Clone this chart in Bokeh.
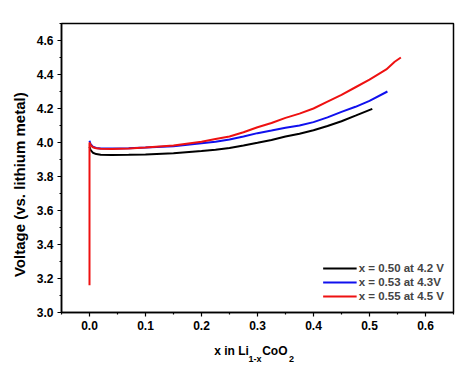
from bokeh.plotting import figure
from bokeh.models import FixedTicker, PrintfTickFormatter, Range1d, Legend, LegendItem, LinearAxis
from bokeh.embed import file_html
from bokeh.resources import INLINE

# Charge curves of Li(1-x)CoO2 cells cut off at three voltages
black_x = [0.0, 0.002, 0.006, 0.012, 0.02, 0.04, 0.07, 0.1, 0.15, 0.2, 0.225, 0.25, 0.275, 0.3,
           0.325, 0.35, 0.375, 0.4, 0.425, 0.45, 0.475, 0.505]
black_v = [3.975, 3.955, 3.94, 3.932, 3.928, 3.927, 3.928, 3.93, 3.937, 3.95, 3.958, 3.968, 3.982, 3.998,
           4.015, 4.035, 4.052, 4.072, 4.097, 4.125, 4.158, 4.198]

blue_x = [0.0, 0.002, 0.006, 0.012, 0.02, 0.04, 0.07, 0.1, 0.15, 0.2, 0.225, 0.25, 0.275, 0.3,
          0.325, 0.35, 0.375, 0.4, 0.425, 0.45, 0.475, 0.5, 0.532]
blue_v = [4.01, 3.99, 3.975, 3.968, 3.965, 3.964, 3.966, 3.97, 3.978, 3.995, 4.005, 4.018, 4.035, 4.055,
          4.07, 4.087, 4.10, 4.12, 4.148, 4.18, 4.21, 4.245, 4.30]

red_x = [0.0, 0.0, 0.002, 0.006, 0.012, 0.02, 0.04, 0.07, 0.1, 0.15, 0.2, 0.225, 0.25, 0.275, 0.3,
         0.325, 0.35, 0.375, 0.4, 0.425, 0.45, 0.475, 0.5, 0.53, 0.545, 0.556]
red_v = [3.16, 4.0, 3.985, 3.972, 3.966, 3.963, 3.962, 3.965, 3.97, 3.982, 4.005, 4.02, 4.035, 4.06, 4.09,
         4.115, 4.145, 4.17, 4.2, 4.24, 4.28, 4.325, 4.37, 4.43, 4.475, 4.5]

series_labels = ["x = 0.50 at 4.2 V", "x = 0.53 at 4.3V", "x = 0.55 at 4.5 V"]

x_ticks = [0.0, 0.1, 0.2, 0.3, 0.4, 0.5, 0.6]
x_minor = [-0.05, 0.05, 0.15, 0.25, 0.35, 0.45, 0.55, 0.65]
y_ticks = [3.0, 3.2, 3.4, 3.6, 3.8, 4.0, 4.2, 4.4, 4.6]
y_minor = [3.1, 3.3, 3.5, 3.7, 3.9, 4.1, 4.3, 4.5, 4.7]

FONT = "Liberation Sans"
NB = "\u00a0"

p = figure(width=474, height=379, output_backend="svg", toolbar_location=None,
           x_range=Range1d(-0.05, 0.65), y_range=Range1d(3.0, 4.7),
           min_border_left=61, min_border_right=21, min_border_top=23, min_border_bottom=67)
p.background_fill_color = "white"
p.border_fill_color = "white"
p.xgrid.visible = False
p.ygrid.visible = False
p.outline_line_color = "black"
p.outline_line_width = 1.5

for ax, ticks, minor in ((p.xaxis[0], x_ticks, x_minor), (p.yaxis[0], y_ticks, y_minor)):
    ax.ticker = FixedTicker(ticks=ticks, minor_ticks=minor)
    ax.formatter = PrintfTickFormatter(format="%.1f")
    ax.axis_line_color = "black"
    ax.axis_line_width = 1.5
    ax.major_tick_line_color = "black"
    ax.minor_tick_line_color = "black"
    ax.major_tick_line_width = 1.2
    ax.minor_tick_line_width = 1.2
    ax.major_tick_in = 0
    ax.major_tick_out = 4
    ax.minor_tick_in = 0
    ax.minor_tick_out = 2
    ax.major_label_text_font = FONT
    ax.major_label_text_font_style = "bold"
    ax.major_label_text_font_size = "12px"
    ax.major_label_text_color = "black"
    ax.major_label_standoff = 4
    ax.axis_label_text_font = FONT
    ax.axis_label_text_font_style = "bold"
    ax.axis_label_text_color = "black"

# y title; the trailing no-break spaces nudge the rotated title downward
p.yaxis.axis_label = "Voltage (vs. lithium metal)" + NB * 8
p.yaxis.axis_label_text_font_size = "15px"
p.yaxis.axis_label_standoff = 6

# x title: main text on the x axis, gaps left for the subscripts
p.xaxis.axis_label = "x in Li" + NB * 4 + "CoO" + NB * 4
p.xaxis.axis_label_text_font_size = "12px"
p.xaxis.axis_label_standoff = 11

# subscripts "1-x" and "2" on a bare axis stacked just underneath
sub_axis = LinearAxis(ticker=FixedTicker(ticks=[], minor_ticks=[]),
                      axis_line_color=None, major_tick_out=0, major_tick_in=0,
                      minor_tick_out=0, minor_tick_in=0, major_label_standoff=0,
                      major_label_text_font_size="0px",
                      axis_label=NB * 14 + "1-x" + NB * 11 + "2" + NB * 3,
                      axis_label_text_font=FONT, axis_label_text_font_style="bold",
                      axis_label_text_font_size="9px", axis_label_text_color="black",
                      axis_label_standoff=-7)
p.add_layout(sub_axis, "below")

r_black = p.line(black_x, black_v, line_color="black", line_width=2)
r_blue = p.line(blue_x, blue_v, line_color="#1010ee", line_width=2)
r_red = p.line(red_x, red_v, line_color="#ee1111", line_width=2)

legend = Legend(items=[LegendItem(label=series_labels[0], renderers=[r_black]),
                       LegendItem(label=series_labels[1], renderers=[r_blue]),
                       LegendItem(label=series_labels[2], renderers=[r_red])],
                location="bottom_right")
legend.border_line_color = None
legend.background_fill_alpha = 0
legend.label_text_font = FONT
legend.label_text_font_style = "bold"
legend.label_text_font_size = "11.5px"
legend.glyph_width = 34
legend.glyph_height = 14
legend.label_height = 14
legend.label_standoff = 2
legend.spacing = 0
legend.padding = 5
legend.margin = 9
p.add_layout(legend)

open("out.html", "w").write(file_html(p, INLINE))
